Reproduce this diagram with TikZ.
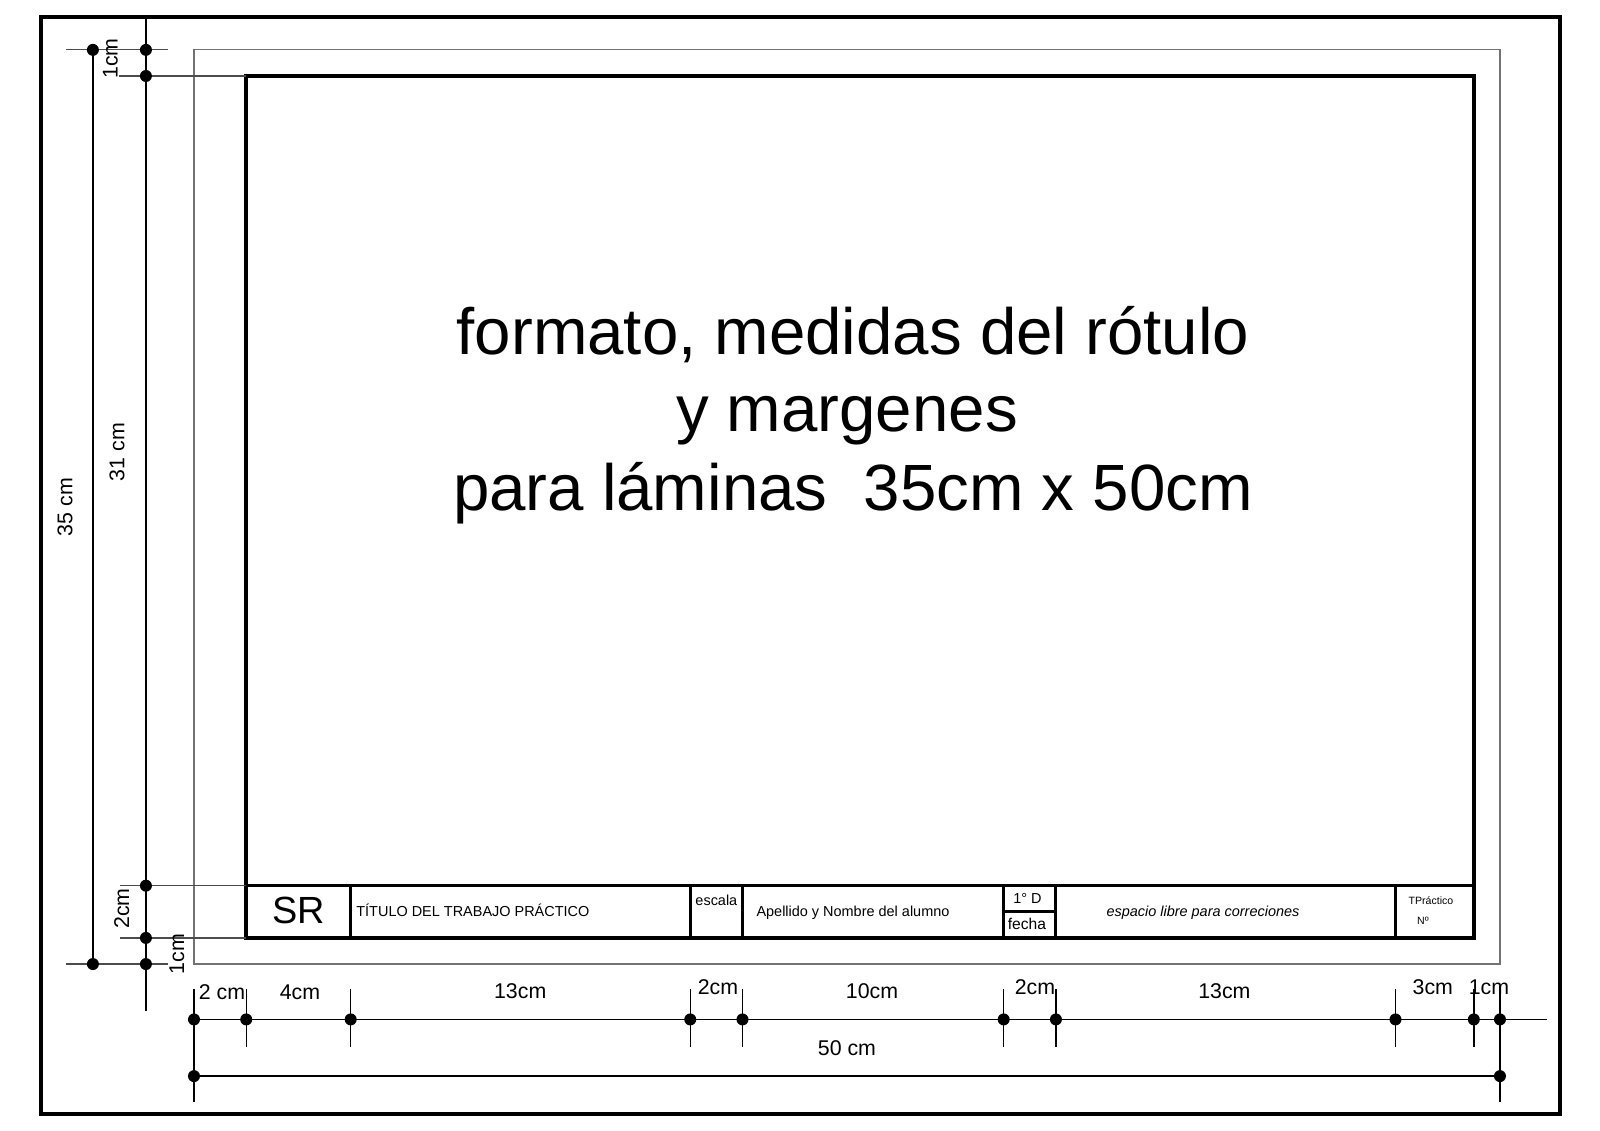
\documentclass[tikz,border=0pt]{standalone}
\usepackage{fontspec}
\setmainfont{Liberation Sans}
\usepackage{tikz}
\tikzset{
  frame/.style={line width=1.6pt},
  sheetline/.style={line width=0.5pt, draw=black!55},
  rotulo/.style={line width=1.35pt},
  dimline/.style={line width=0.75pt},
  tickline/.style={line width=0.6pt},
  extline/.style={line width=0.5pt, draw=black!70},
  dimtext/.style={font=\fontsize{9.3}{11}\selectfont, inner sep=0pt},
  celltext/.style={font=\fontsize{6.3}{7.5}\selectfont, inner sep=0pt},
  titletext/.style={font=\fontsize{28.5}{34}\selectfont, inner sep=0pt, anchor=base},
}

\begin{document}
\begin{tikzpicture}[x=0.4cm, y=0.4cm]
  \useasboundingbox (-7.427,-6.39) rectangle (53.83,36.91);

  % Frames
  \draw[frame] (-5.86,-5.74) rectangle (52.3,36.26);
  \draw[sheetline] (0,0) rectangle (50,35);
  \draw[frame] (2,1) rectangle (49,34);

  % Rotulo
  \draw[rotulo] (2,3) -- (49,3);
  \foreach \x in {6,19,21,31,33,46} \draw[rotulo] (\x,1) -- (\x,3);
  \draw[rotulo] (31,2) -- (33,2);

  % Title
  \node[titletext] (title1) at (25.23,23.35) {formato, medidas del rótulo};
  \node[titletext] (title2) at (25.0,20.37) {y margenes};
  \node[titletext] (title3) at (25.23,17.38) {para láminas\ \ 35cm x 50cm};

  % Nodes in rotulo
  \node[font=\fontsize{16.5}{18}\selectfont, inner sep=0pt] (sr) at (4,2.07) {SR};
  \node[celltext, anchor=west] (titulo) at (6.2,2.05) {TÍTULO DEL TRABAJO PRÁCTICO};
  \node[celltext] (escala) at (20,2.45) {escala};
  \node[celltext, anchor=west] (alumno) at (21.52,1.95) {Apellido y Nombre del alumno};
  \node[celltext, anchor=west] (curso) at (31.35,2.53) {1° D};
  \node[celltext, font=\fontsize{6.8}{8}\selectfont] (fecha) at (31.89,1.55) {fecha};
  \node[celltext, font=\fontsize{6.3}{7.5}\selectfont\itshape] (correc) at (38.63,1.97) {espacio libre para correciones};
  \node[celltext, font=\fontsize{4.6}{5.5}\selectfont] (tpractico) at (47.36,2.41) {TPráctico};
  \node[celltext, font=\fontsize{4.6}{5.5}\selectfont] (numero) at (47.05,1.66) {Nº};

  % Left dimensions
  \draw[extline] (-4.9,35) -- (-1.0,35);
  \draw[extline] (-4.9,0) -- (-1.0,0);
  \draw[extline] (-2.87,34) -- (2,34);
  \draw[extline] (-2.83,3) -- (2,3);
  \draw[extline] (-2.83,1) -- (2,1);
  \draw[tickline] (-3.87,0) -- (-3.87,35);
  \draw[line width=1pt] (-1.84,-1.8) -- (-1.84,36.26);
  \foreach \p in {(-3.87,35),(-3.87,0),(-1.84,35),(-1.84,34),(-1.84,3),(-1.84,1),(-1.84,0)}
    \fill \p circle (0.23);

  \node[dimtext, rotate=90] (hTop) at (-3.2,34.67) {1cm};
  \node[dimtext, rotate=90] (hRot) at (-2.76,2.12) {2cm};
  \node[dimtext, rotate=90] (hBot) at (-0.65,0.38) {1cm};
  \node[dimtext, rotate=90] (hTotal) at (-4.94,17.5) {35 cm};
  \node[dimtext, rotate=90] (hUtil) at (-2.95,19.6) {31 cm};

  % Bottom dimensions
  \draw[dimline] (0,-2.12) -- (51.8,-2.12);
  \draw[dimline] (0,-4.29) -- (50,-4.29);
  \foreach \x in {2,6,19,21,31,33,46,49} \draw[tickline] (\x,-0.95) -- (\x,-3.18);
  \draw[tickline] (0,-0.95) -- (0,-5.28);
  \draw[tickline] (50,-0.85) -- (50,-5.28);
  \foreach \x in {0,2,6,19,21,31,33,46,49,50} \fill (\x,-2.12) circle (0.23);
  \fill (0,-4.29) circle (0.23);
  \fill (50,-4.29) circle (0.23);

  \node[dimtext] (wMarg) at (1.07,-1.07) {2 cm};
  \node[dimtext] (wSR) at (4.06,-1.07) {4cm};
  \node[dimtext] (wTitulo) at (12.49,-1.03) {13cm};
  \node[dimtext] (wEscala) at (20.06,-0.88) {2cm};
  \node[dimtext] (wAlumno) at (25.96,-1.05) {10cm};
  \node[dimtext] (wCurso) at (32.2,-0.88) {2cm};
  \node[dimtext] (wCorrec) at (39.45,-1.03) {13cm};
  \node[dimtext] (wTP) at (47.43,-0.88) {3cm};
  \node[dimtext] (wMargR) at (49.58,-0.88) {1cm};
  \node[dimtext] (wTotal) at (25.0,-3.22) {50 cm};

\end{tikzpicture}
\end{document}
